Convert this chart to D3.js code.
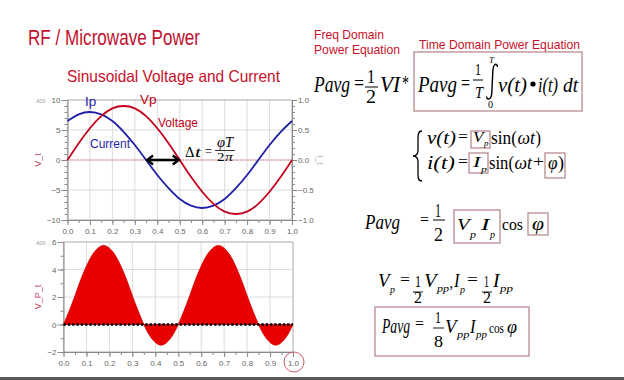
<!DOCTYPE html>
<html><head><meta charset="utf-8">
<script src="https://cdn.jsdelivr.net/npm/d3@7"></script>
<style>body{margin:0;background:#fff}svg{display:block}</style>
</head><body><svg id="c" width="624" height="380"></svg>
<script>
// ---------- data ----------
const timeTop = [0,0.05,0.1,0.15,0.2,0.25,0.3,0.35,0.4,0.45,0.5,0.55,0.6,0.65,0.7,0.75,0.8,0.85,0.9,0.95,1.0];
const voltage = [0,2.8,5.3,7.3,8.6,9.0,8.6,7.3,5.3,2.8,0,-2.8,-5.3,-7.3,-8.6,-9.0,-8.6,-7.3,-5.3,-2.8,0];
const current = [6.5,7.6,8.0,7.6,6.5,4.7,2.5,0,-2.5,-4.7,-6.5,-7.6,-8.0,-7.6,-6.5,-4.7,-2.5,0,2.5,4.7,6.5];
const timePow = [0,0.025,0.05,0.075,0.1,0.125,0.15,0.175,0.2,0.225,0.25,0.275,0.3,0.325,0.35,0.375,0.4,0.425,0.45,0.475,0.5,
                 0.525,0.55,0.575,0.6,0.625,0.65,0.675,0.7,0.725,0.75,0.775,0.8,0.825,0.85,0.875,0.9,0.925,0.95,0.975,1.0];
const power = [0,1.0,2.1,3.25,4.25,5.05,5.55,5.75,5.55,5.05,4.25,3.25,2.1,1.0,0,-0.8,-1.3,-1.5,-1.3,-0.8,0,
               1.0,2.1,3.25,4.25,5.05,5.55,5.75,5.55,5.05,4.25,3.25,2.1,1.0,0,-0.8,-1.3,-1.5,-1.3,-0.8,0];
const xTicks = [0,0.1,0.2,0.3,0.4,0.5,0.6,0.7,0.8,0.9,1.0];
const yTicksTop = [-10,-5,0,5,10];
const yTicksRight = [-1,-0.5,0,0.5,1];
const yTicksBottom = [-2,0,2,4,6];
const phaseMarks = [0.35,0.5];

// ---------- setup ----------
const svg = d3.select('#c');
svg.append('rect').attr('width',624).attr('height',380).attr('fill','#fff');
const SANS = 'Liberation Sans, Arial, sans-serif';
const NARROW = 'Liberation Sans Narrow, Liberation Sans, Arial, sans-serif';
const SERIF = 'Liberation Serif, Times New Roman, serif';
const RED = '#c0102e', BLUE = '#1f1fa8', CRV_RED = '#c4001c', BOX = '#b98c8f';

function txt(x, y, s, o = {}) {
  const t = svg.append('text').attr('x', x).attr('y', y).text(s)
    .attr('font-family', o.family || (o.serif ? SERIF : SANS))
    .attr('font-size', o.size || 12).attr('fill', o.color || '#000')
    .attr('font-style', o.it ? 'italic' : 'normal')
    .attr('text-anchor', o.anchor || 'start');
  if (o.w) t.attr('textLength', o.w).attr('lengthAdjust', 'spacingAndGlyphs');
  return t;
}
// equation pieces: [x0, x1, baseline, string, size, italic]; each piece is scaled horizontally to fit x0..x1
function eq(pieces) {
  const g = svg.append('g').attr('font-family', SERIF).attr('fill', '#000');
  pieces.forEach(([x0, x1, y, s, size, it]) => {
    const t = g.append('text').attr('x', 0).attr('y', 0).attr('font-size', size)
      .attr('font-style', it ? 'italic' : 'normal').text(s);
    const nat = t.node().getComputedTextLength() || (x1 - x0);
    const k = (x1 - x0) / nat;
    t.attr('transform', `translate(${x0},${y}) scale(${k.toFixed(3)},1)`);
  });
  return g;
}
function hline(x0, x1, y, w = 1, c = '#000') {
  svg.append('line').attr('x1', x0).attr('x2', x1).attr('y1', y).attr('y2', y).attr('stroke', c).attr('stroke-width', w);
}
function box(x0, x1, y0, y1) {
  svg.append('rect').attr('x', x0).attr('y', y0).attr('width', x1 - x0).attr('height', y1 - y0)
    .attr('fill', 'none').attr('stroke', BOX).attr('stroke-width', 1.3);
}

// ---------- titles ----------
txt(28, 45, 'RF / Microwave Power', {family: NARROW, size: 22.5, color: RED, w: 172});
txt(67, 82, 'Sinusoidal Voltage and Current', {size: 16.5, color: '#c8102a', w: 213});

// ---------- panel helper ----------
function styleAxis(g) {
  g.select('.domain').attr('stroke', '#8a8a8a');
  g.selectAll('.tick line').attr('stroke', '#8a8a8a');
  g.selectAll('.tick text').attr('fill', '#666').attr('font-size', 8).attr('font-family', SANS);
}
function frameAndGrid(x, y, yt, xr, yr) {
  const g = svg.append('g');
  g.selectAll('.gv').data(xTicks.slice(1)).join('line')
    .attr('x1', d => x(d)).attr('x2', d => x(d)).attr('y1', yr[0]).attr('y2', yr[1])
    .attr('stroke', '#dcdcdc').attr('stroke-width', 1);
  g.selectAll('.gh').data(yt).join('line')
    .attr('x1', xr[0]).attr('x2', xr[1]).attr('y1', d => y(d)).attr('y2', d => y(d))
    .attr('stroke', '#dcdcdc').attr('stroke-width', 1);
  g.append('rect').attr('x', xr[0]).attr('y', yr[1]).attr('width', xr[1] - xr[0]).attr('height', yr[0] - yr[1])
    .attr('fill', 'none').attr('stroke', '#c4c4c4').attr('stroke-width', 1.2);
}
function minor(g, axisFn, scale, vals, len) {
  g.call(axisFn(scale).tickValues(vals).tickSize(len).tickFormat('')).call(styleAxis);
  g.select('.domain').remove();
}

// ---------- top panel ----------
const xT = d3.scaleLinear().domain([0, 1]).range([67.5, 292]);
const yT = d3.scaleLinear().domain([-10, 10]).range([220, 100]);
const yR = d3.scaleLinear().domain([-1, 1]).range([220, 100]);
frameAndGrid(xT, yT, yTicksTop, xT.range(), yT.range());

minor(svg.append('g').attr('transform', 'translate(67.5,0)'), d3.axisLeft, yT, d3.range(-10, 10.1, 1), 3);
minor(svg.append('g').attr('transform', 'translate(292,0)'), d3.axisRight, yR, d3.range(-1, 1.01, 0.1), 3);
minor(svg.append('g').attr('transform', 'translate(0,220)'), d3.axisBottom, xT, d3.range(0, 1.01, 0.05), 3);
svg.append('g').attr('transform', 'translate(67.5,0)')
  .call(d3.axisLeft(yT).tickValues(yTicksTop).tickSize(6).tickSizeOuter(0).tickPadding(1).tickFormat(d3.format('d'))).call(styleAxis);
svg.append('g').attr('transform', 'translate(292,0)')
  .call(d3.axisRight(yR).tickValues(yTicksRight).tickSize(5).tickSizeOuter(0).tickPadding(1).tickFormat(d3.format('.1f'))).call(styleAxis);
svg.append('g').attr('transform', 'translate(0,220)')
  .call(d3.axisBottom(xT).tickValues(xTicks).tickSize(5).tickSizeOuter(0).tickPadding(3).tickFormat(d3.format('.1f'))).call(styleAxis);

// zero line
svg.append('line').attr('x1', xT(0)).attr('x2', xT(1)).attr('y1', yT(0)).attr('y2', yT(0))
  .attr('stroke', '#e07a8a').attr('stroke-width', 1).attr('stroke-dasharray', '1.5,1');

const lineV = d3.line().x((d, i) => xT(timeTop[i])).y(d => yT(d)).curve(d3.curveNatural);
svg.append('path').attr('d', lineV(current)).attr('fill', 'none').attr('stroke', BLUE).attr('stroke-width', 1.8);
svg.append('path').attr('d', lineV(voltage)).attr('fill', 'none').attr('stroke', CRV_RED).attr('stroke-width', 1.8);

// axis titles
txt(0, 0, 'V_t', {size: 9, color: '#c05070', anchor: 'middle'}).attr('transform', 'translate(41,160) rotate(-90)');
txt(0, 0, 'I_t', {size: 9, color: '#b0b0b0', anchor: 'middle'}).attr('transform', 'translate(317,160) rotate(90)');
txt(41, 103, 'ADS', {size: 4.5, color: '#999', anchor: 'middle'});

// labels
txt(85, 106, 'Ip', {size: 13.5, color: BLUE});
txt(140, 104, 'Vp', {size: 13.5, color: '#c00018'});
txt(158, 127, 'Voltage', {size: 13.5, color: '#c00018', w: 40});
txt(90, 148, 'Current', {size: 13.5, color: BLUE, w: 40});

// delta-t arrow
{
  const a = xT(phaseMarks[0]) + 1, b = xT(phaseMarks[1]) - 1, y0 = yT(0);
  svg.append('line').attr('x1', a + 1).attr('x2', b - 1).attr('y1', y0).attr('y2', y0).attr('stroke', '#000').attr('stroke-width', 2.6);
  svg.append('path').attr('d', `M${a + 6},${y0 - 4.5} L${a},${y0} L${a + 6},${y0 + 4.5}`).attr('fill', 'none').attr('stroke', '#000').attr('stroke-width', 2.4);
  svg.append('path').attr('d', `M${b - 6},${y0 - 4.5} L${b},${y0} L${b - 6},${y0 + 4.5}`).attr('fill', 'none').attr('stroke', '#000').attr('stroke-width', 2.4);
}
eq([[185, 194.5, 157, 'Δ', 15, false], [195, 201, 157, 't', 15, true], [205, 212, 156, '=', 14, false],
    [217, 233, 147, 'φT', 14, true], [217, 224.5, 161, '2', 13, false], [225, 233, 161, 'π', 13, true]]);
hline(215, 235, 150.5, 0.8);

// ---------- bottom panel ----------
const xB = d3.scaleLinear().domain([0, 1]).range([63.5, 293]);
const yB = d3.scaleLinear().domain([-2, 6]).range([352, 242]);
frameAndGrid(xB, yB, yTicksBottom, xB.range(), yB.range());
minor(svg.append('g').attr('transform', 'translate(63.5,0)'), d3.axisLeft, yB, d3.range(-2, 6.1, 1), 3);
minor(svg.append('g').attr('transform', 'translate(0,352)'), d3.axisBottom, xB, d3.range(0, 1.01, 0.05), 3);
svg.append('g').attr('transform', 'translate(63.5,0)')
  .call(d3.axisLeft(yB).tickValues(yTicksBottom).tickSize(6).tickSizeOuter(0).tickPadding(1).tickFormat(d3.format('d'))).call(styleAxis);
svg.append('g').attr('transform', 'translate(0,352)')
  .call(d3.axisBottom(xB).tickValues(xTicks).tickSize(5).tickSizeOuter(0).tickPadding(3).tickFormat(d3.format('.1f'))).call(styleAxis);

const areaP = d3.area().x((d, i) => xB(timePow[i])).y0(yB(0)).y1(d => yB(d)).curve(d3.curveNatural);
svg.append('path').attr('d', areaP(power)).attr('fill', '#e80000').attr('stroke', '#d00000').attr('stroke-width', 0.8);
svg.append('line').attr('x1', xB(0)).attr('x2', xB(1)).attr('y1', yB(0)).attr('y2', yB(0))
  .attr('stroke', '#000').attr('stroke-width', 2.4).attr('stroke-dasharray', '2.5,1.8');

txt(0, 0, 'V_P_t', {size: 9, color: '#c04060', anchor: 'middle'}).attr('transform', 'translate(41,297) rotate(-90)');
txt(41, 245, 'ADS', {size: 4.5, color: '#999', anchor: 'middle'});
svg.append('circle').attr('cx', 294).attr('cy', 362).attr('r', 10).attr('fill', 'none').attr('stroke', '#c86070').attr('stroke-width', 1);

// ---------- equations ----------
txt(314, 39, 'Freq Domain', {size: 13, color: '#c8102a', w: 70});
txt(314, 54, 'Power Equation', {size: 13, color: '#c8102a', w: 86});
txt(419, 49, 'Time Domain Power Equation', {size: 13, color: '#c8102a', w: 161});

// Pavg = 1/2 VI *
eq([[314, 350, 92, 'Pavg', 24, true], [354, 364, 90, '=', 20, false],
    [367, 375, 83, '1', 18, false], [366, 376, 103, '2', 18, false],
    [380, 400, 92, 'VI', 24, true], [402, 409, 90, '*', 20, false]]);
hline(365, 378, 87, 1);

// box: Pavg = 1/T ∫ v(t)•i(t) dt
box(414, 582, 52, 111);
eq([[418, 457, 92, 'Pavg', 24, true], [461, 470, 90, '=', 20, false],
    [475, 481, 75, '1', 16, false], [475, 483, 98, 'T', 16, true],
    [489, 494, 63, 'T', 9, true], [488, 493, 108, '0', 10, false],
    [498, 527, 92, 'v(t)', 21, true], [538, 558, 92, 'i(t)', 20, true], [563, 578, 92, 'dt', 20, true]]);
hline(473, 483, 80, 1);
// integral sign
svg.append('path').attr('d', 'M497.5,67 C497.5,64.5 496,64 495,64.5 C493.2,65.5 493,68 492.8,72 L491.8,93 C491.5,97 490.5,99 488.5,99 C487,99 486.5,97.5 486.8,96.5')
  .attr('fill', 'none').attr('stroke', '#000').attr('stroke-width', 1.4);
svg.append('circle').attr('cx', 533).attr('cy', 84).attr('r', 2.6).attr('fill', '#000');

// brace system
svg.append('path').attr('d', 'M422,131 C418,131 418,135 418,141 L418,150 C418,154 417,156 413,156 C417,156 418,158 418,162 L418,172 C418,178 418,181 422,181')
  .attr('fill', 'none').attr('stroke', '#000').attr('stroke-width', 1.3);
box(471, 490, 131, 148);
box(469, 488, 153, 173);
box(545, 565, 153, 178);
eq([[427, 456, 144, 'v(t)', 19, true], [458, 468, 142, '=', 17, false],
    [473, 483.5, 142, 'V', 15, true], [484, 488.5, 146, 'p', 9, true],
    [491, 517, 144, 'sin(', 18, false], [517.5, 535, 144, 'ωt', 18, true], [535.5, 541, 144, ')', 18, false]]);
eq([[427, 455, 169, 'i(t)', 19, true], [458, 468, 167, '=', 17, false],
    [473, 480.5, 167, 'I', 15, true], [481, 487, 172, 'p', 9, true],
    [489, 514, 169, 'sin(', 18, false], [514.5, 532, 169, 'ωt', 18, true], [533, 544, 167, '+', 17, false],
    [548, 557.5, 169, 'φ', 18, true], [558, 564, 169, ')', 18, false]]);

// Pavg = 1/2 VpIp cos φ
box(454, 500, 210, 243);
box(528, 548, 213, 235);
eq([[365, 400, 229, 'Pavg', 21, true], [420, 429, 225, '=', 17, false],
    [435, 441, 217, '1', 18, false], [434, 443, 241, '2', 18, false],
    [457, 469.5, 230, 'V', 17, true], [470, 476, 238, 'p', 10, true],
    [481, 489.5, 230, 'I', 17, true], [490, 495, 238, 'p', 10, true],
    [502, 523, 230, 'cos', 17, false], [532, 544, 230, 'φ', 18, true]]);
hline(433, 445, 220, 1);

// Vp = 1/2 Vpp, Ip = 1/2 Ipp
eq([[378, 389.5, 287, 'V', 18, true], [390, 395, 293, 'p', 10, true], [400, 410, 285, '=', 16, false],
    [415, 421, 287, '1', 16, false], [414, 422, 303, '2', 16, false],
    [424, 436.5, 287, 'V', 18, true], [437, 449, 292, 'pp', 10, true], [449.5, 453, 288, ',', 16, false],
    [454, 459.5, 287, 'I', 18, true], [460, 465, 293, 'p', 10, true], [467, 478, 285, '=', 16, false],
    [484, 489, 287, '1', 16, false], [483, 491, 303, '2', 16, false],
    [493, 499.5, 287, 'I', 18, true], [500, 513, 292, 'pp', 10, true]]);
hline(413, 423, 292, 0.9);
hline(482, 492, 292, 0.9);

// box: Pavg = 1/8 Vpp Ipp cos φ
box(375, 529, 307, 356);
eq([[382, 410, 333, 'Pavg', 20, true], [415, 424, 329, '=', 16, false],
    [435, 441, 323, '1', 16, false], [434, 443, 347, '8', 16, false],
    [445, 456.5, 333, 'V', 18, true], [457, 469.5, 338, 'pp', 10, true],
    [470, 475.5, 333, 'I', 18, true], [476, 487, 338, 'pp', 10, true],
    [489, 504, 333, 'cos', 15, false], [507, 517, 333, 'φ', 18, true]]);
hline(433, 444, 328, 0.9);

// bottom strip
svg.append('rect').attr('x', 0).attr('y', 377).attr('width', 624).attr('height', 3).attr('fill', '#5a5a5a');
</script></body></html>
